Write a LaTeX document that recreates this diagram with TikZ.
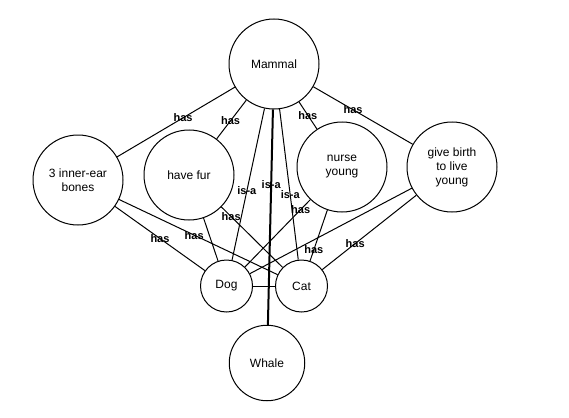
\documentclass[tikz,border=0pt]{standalone}
\usepackage{fontspec}
\setmainfont{Liberation Sans}
\begin{document}
\begin{tikzpicture}[x=1pt,y=-1pt,
  concept/.style={circle,draw,line width=1pt,inner sep=0pt,align=center,font=\fontsize{12}{14}\selectfont},
  bigc/.style={concept,minimum size=90pt},
  smallc/.style={concept,minimum size=52pt},
  midc/.style={concept,minimum size=75.5pt},
  link/.style={line width=1pt},
  heavylink/.style={line width=2pt},
  lbl/.style={font=\fontsize{11}{13}\selectfont\bfseries,inner sep=1pt}]
\fill[white] (0,0) rectangle (569,417);
\useasboundingbox (0,0) rectangle (569,417);

\node[bigc] (M) at (274,64) {Mammal};
\node[bigc] (E) at (78,180) {3 inner-ear\\bones};
\node[bigc] (F) at (189,175) {have fur};
\node[bigc] (N) at (342,167) {nurse\\young};
\node[bigc] (G) at (452,167) {give birth\\to live\\young};
\node[smallc] (D) at (226.5,286) {Dog};
\node[smallc] (C) at (301.5,286) {Cat};
\node[midc] (W) at (267,363) {Whale};

\draw[link] (M) -- node[lbl,pos=0.44] (l1) {has} (E);
\draw[link] (M) -- node[lbl,pos=0.53] (l2) {has} (F);
\draw[link] (M) -- node[lbl,pos=0.49] (l3) {has} (N);
\draw[link] (M) -- node[lbl,pos=0.40] (l4) {has} (G);
\draw[link] (M) -- node[lbl,pos=0.544] (l5) {is-a} (D);
\draw[link] (M) -- node[lbl,pos=0.57] (l6) {is-a} (C);
\draw[heavylink] (M) -- node[lbl,pos=0.347] (l7) {is-a} (W);
\draw[link] (E) -- node[lbl,pos=0.5] (l8) {has} (D);
\draw[link] (E) -- node[lbl,pos=0.474] (l9) {has} (C);
\draw[link] (F) -- (D);
\draw[link] (F) -- node[lbl,pos=0.16] (l10) {has} (C);
\draw[link] (N) -- node[lbl,pos=0.147] (l11) {has} (D);
\draw[link] (N) -- node[lbl,pos=0.78] (l12) {has} (C);
\draw[link] (G) -- (D);
\draw[link] (G) -- node[lbl,pos=0.65] (l13) {has} (C);
\draw[link] (D) -- (C);
\end{tikzpicture}
\end{document}
